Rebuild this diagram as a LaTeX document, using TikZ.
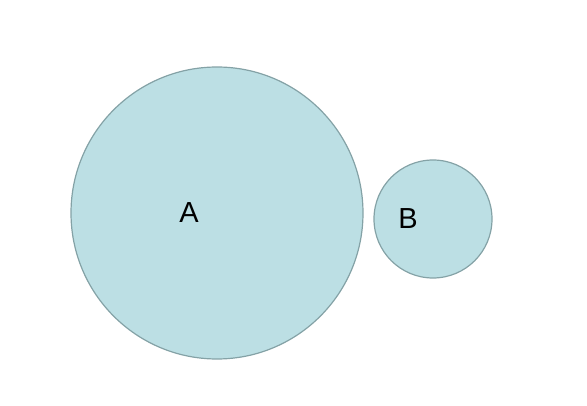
\documentclass[tikz,border=0pt]{standalone}
\usepackage{fontspec}
\setmainfont{Liberation Sans}
\usetikzlibrary{positioning}

\definecolor{discfill}{RGB}{188,223,228}
\definecolor{discline}{RGB}{132,162,166}

\begin{document}
\begin{tikzpicture}[x=1pt,y=-1pt]
    \tikzset{disc/.style={circle,draw=discline,fill=discfill,line width=1.2pt,inner sep=0pt}}
    \useasboundingbox (0,0) rectangle (587,406);

    \node[disc,minimum size=292pt] (circA) at (217,213) {};
    \node[disc,minimum size=118pt] (circB) at (433,219) {};

    \node[font=\fontsize{29}{32}\selectfont] (labA) at (189,213) {A};
    \node[font=\fontsize{29}{32}\selectfont] (labB) at (408,219) {B};

\end{tikzpicture}
\end{document}
